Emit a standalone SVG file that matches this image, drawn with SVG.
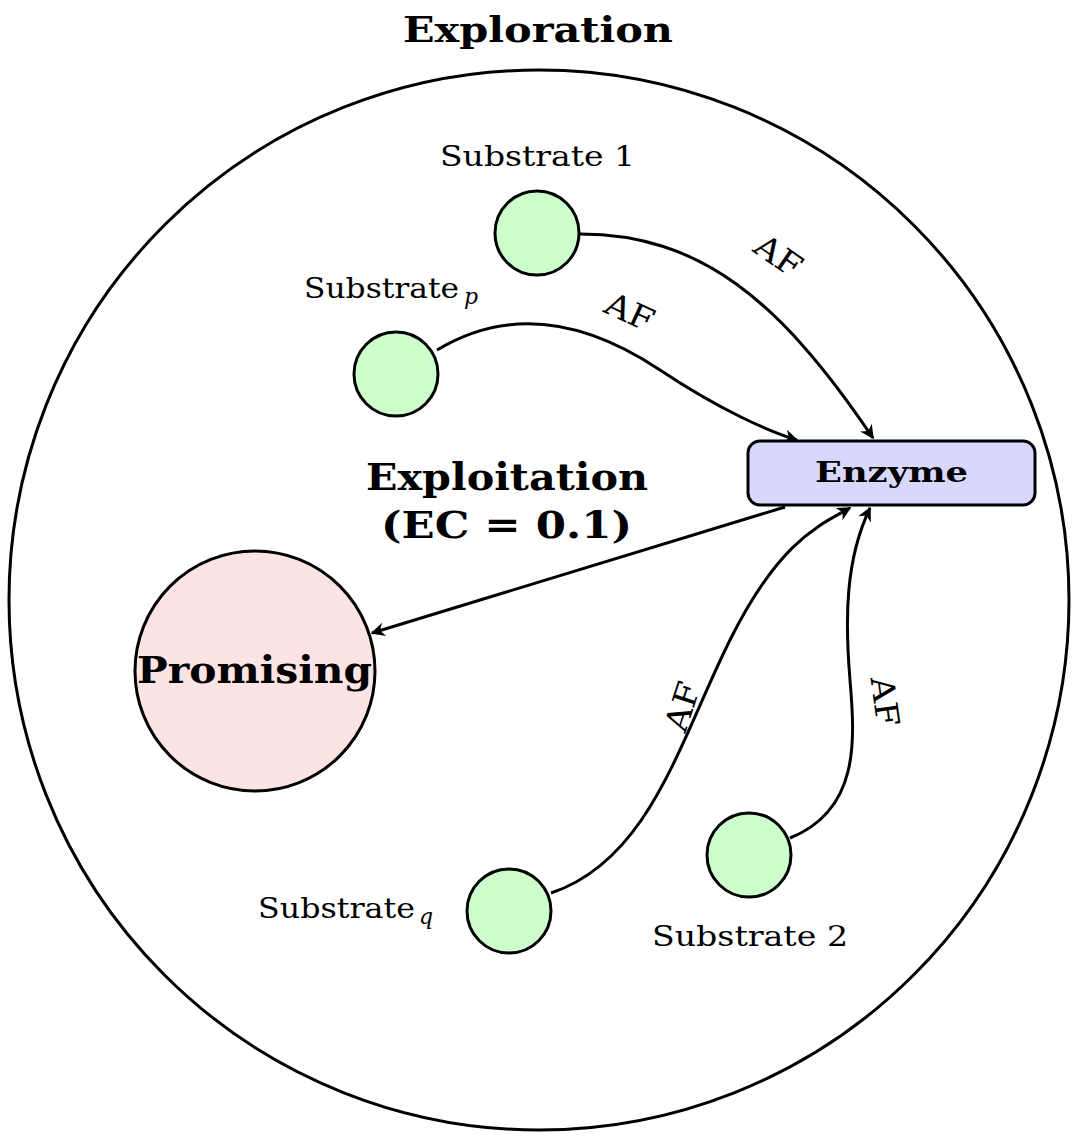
<svg xmlns="http://www.w3.org/2000/svg" width="1080" height="1137" viewBox="0 0 1080 1137">
<defs>
<marker id="ar" viewBox="0 0 10 10" refX="9" refY="5" markerWidth="16" markerHeight="14" orient="auto-start-reverse" markerUnits="userSpaceOnUse"><path d="M0,0 L10,5 L0,10 L3,5 Z" fill="#000"/></marker>
</defs>
<style>
text{font-family:"DejaVu Serif","Liberation Serif",serif;fill:#000}
.sub{fill:#ccffcc;stroke:#000;stroke-width:3}
.lbl{font-size:27px}
.af{font-size:32px}
.e{fill:none;stroke:#000;stroke-width:3;marker-end:url(#ar)}
</style>
<rect width="1080" height="1137" fill="#fff"/>
<g id="outer"><circle cx="539" cy="600" r="530" fill="none" stroke="#000" stroke-width="3"/>
<text x="403" y="42" font-size="36" font-weight="bold" textLength="270" lengthAdjust="spacingAndGlyphs">Exploration</text></g>
<g id="connectors">
<path class="e" d="M580,234 C700,234 780,300 873,438"/>
<path class="e" d="M437,350 C520,300 600,330 660,370 S770,432 797,440"/>
<path class="e" d="M551,893 C650,860 680,740 730,640 S820,525 850,508"/>
<path class="e" d="M790,838 C860,810 855,740 850,680 S845,560 870,508"/>
<path class="e" d="M785,507 L372,633"/>
<text class="af" transform="translate(772,265) rotate(35)" text-anchor="middle" textLength="50" lengthAdjust="spacingAndGlyphs">AF</text>
<text class="af" transform="translate(625,322) rotate(25)" text-anchor="middle" textLength="50" lengthAdjust="spacingAndGlyphs">AF</text>
<text class="af" transform="translate(693,710) rotate(-72)" text-anchor="middle" textLength="50" lengthAdjust="spacingAndGlyphs">AF</text>
<text class="af" transform="translate(874,703) rotate(82)" text-anchor="middle" textLength="50" lengthAdjust="spacingAndGlyphs">AF</text>
<text x="366" y="490" font-size="38" font-weight="bold" textLength="282" lengthAdjust="spacingAndGlyphs">Exploitation</text>
<text x="381" y="538" font-size="38" font-weight="bold" textLength="251" lengthAdjust="spacingAndGlyphs">(EC = 0.1)</text>
</g>
<g id="s1"><circle class="sub" cx="537" cy="233" r="42"/><text class="lbl" x="440" y="166" textLength="195" lengthAdjust="spacingAndGlyphs">Substrate 1</text></g>
<g id="sp"><circle class="sub" cx="396" cy="374" r="42"/><text class="lbl" x="304" y="298" textLength="155" lengthAdjust="spacingAndGlyphs">Substrate</text><text x="464" y="304" font-style="italic" font-size="22">p</text></g>
<g id="sq"><circle class="sub" cx="509" cy="911" r="42"/><text class="lbl" x="258" y="918" textLength="157" lengthAdjust="spacingAndGlyphs">Substrate</text><text x="419" y="924" font-style="italic" font-size="22">q</text></g>
<g id="s2"><circle class="sub" cx="749" cy="855" r="42"/><text class="lbl" x="652" y="946" textLength="196" lengthAdjust="spacingAndGlyphs">Substrate 2</text></g>
<g id="promising"><circle cx="255" cy="671" r="120" fill="#fde4e4" stroke="#000" stroke-width="3"/><text x="137" y="683" font-size="38" font-weight="bold" textLength="235" lengthAdjust="spacingAndGlyphs">Promising</text></g>
<g id="enzyme"><rect x="748" y="441" width="287" height="64" rx="12" fill="#d8d8ff" stroke="#000" stroke-width="3"/><text x="815" y="482" font-size="28" font-weight="bold" textLength="153" lengthAdjust="spacingAndGlyphs">Enzyme</text></g>
</svg>
